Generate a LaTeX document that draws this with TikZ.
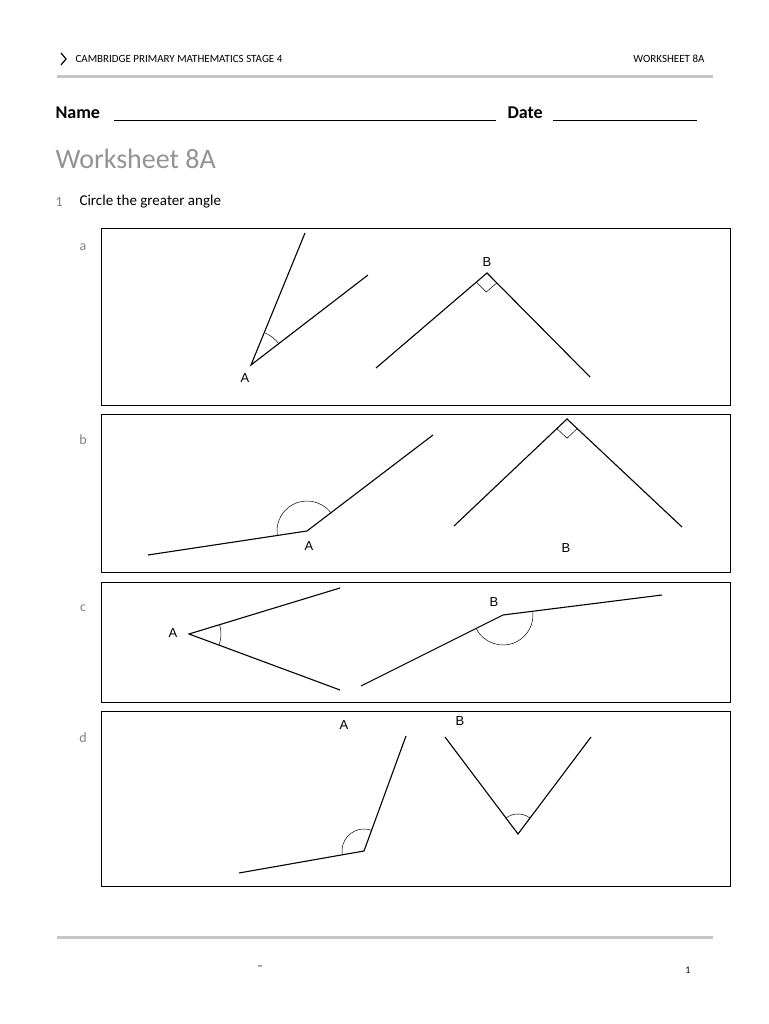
\documentclass[tikz,border=0pt]{standalone}
\usepackage{fontspec}
\setmainfont{Carlito}
\newfontfamily\arialf{Liberation Sans}
\begin{document}
\begin{tikzpicture}[x=1pt,y=1pt,
  ray/.style={line width=1.1pt,black},
  mk/.style={line width=0.5pt,black},
  box/.style={draw=black,line width=0.8pt},
  lbl/.style={font=\arialf\fontsize{13}{13}\selectfont},
  sub/.style={text=gray,font=\fontsize{14}{14}\selectfont},
  shadowline/.style={line width=3pt,color=gray!45}]
\useasboundingbox (0,0) rectangle (768,1024);
% header
\draw[line width=1.2pt] (61,971) -- (66,965) -- (61,959);
\node[anchor=west,font=\fontsize{11}{11}\selectfont] (hd) at (72,965) {CAMBRIDGE PRIMARY MATHEMATICS STAGE 4};
\node[anchor=east,font=\fontsize{11}{11}\selectfont] (ws) at (708,965) {WORKSHEET 8A};
\draw[shadowline] (57,947) -- (713,947);
\node[anchor=west,font=\bfseries\fontsize{18}{18}\selectfont] (nm) at (52,911) {Name};
\draw[line width=1pt] (114,903) -- (496,903);
\node[anchor=west,font=\bfseries\fontsize{18}{18}\selectfont] (dt) at (504,911) {Date};
\draw[line width=1pt] (553,903) -- (697,903);
\node[anchor=west,text=gray!85,font=\fontsize{28}{28}\selectfont] (title) at (52,865) {Worksheet 8A};
\node[anchor=west,sub] (q1) at (52,822) {1};
\node[anchor=west,font=\fontsize{15}{15}\selectfont] (q1t) at (76,822) {Circle the greater angle};
% boxes
\draw[box] (101,796) rectangle (730,619);
\draw[box] (101,610) rectangle (730,452);
\draw[box] (101,442) rectangle (730,322);
\draw[box] (101,313) rectangle (730,138);
\node[sub] (la) at (83,777) {a};
\node[sub] (lb) at (83,584) {b};
\node[sub] (lc) at (83,416) {c};
\node[sub] (ld) at (83,286) {d};
% a
\coordinate (aA) at (251,659); \coordinate (aA1) at (305,791); \coordinate (aA2) at (368,749);
\draw[ray] (aA1) -- (aA) -- (aA2);
\draw[mk] ([shift={(37.6:35)}]aA) arc (37.6:67.8:35);
\node[lbl] (aAl) at (245,646) {A};
\coordinate (aB) at (487,751); \coordinate (aB1) at (376,656); \coordinate (aB2) at (590,647);
\draw[ray] (aB1) -- (aB) -- (aB2);
\draw[mk] ([shift={(220.6:14)}]aB) -- ++(-45.3:14) -- ++(40.6:14);
\node[lbl] (aBl) at (487,762) {B};
% b
\coordinate (bA) at (307,493); \coordinate (bA1) at (148,469); \coordinate (bA2) at (433,589);
\draw[ray] (bA1) -- (bA) -- (bA2);
\draw[mk] ([shift={(37.3:30)}]bA) arc (37.3:188.6:30);
\node[lbl] (bAl) at (309,478) {A};
\coordinate (bB) at (567,605); \coordinate (bB1) at (454,498); \coordinate (bB2) at (682,497);
\draw[ray] (bB1) -- (bB) -- (bB2);
\draw[mk] ([shift={(223.4:14)}]bB) -- ++(-43.2:14) -- ++(43.4:14);
\node[lbl] (bBl) at (566,476) {B};
% c
\coordinate (cA) at (189,390); \coordinate (cA1) at (340,436); \coordinate (cA2) at (340,334);
\draw[ray] (cA1) -- (cA) -- (cA2);
\draw[mk] ([shift={(-20.3:32)}]cA) arc (-20.3:16.9:32);
\node[lbl] (cAl) at (173,391) {A};
\coordinate (cB) at (503,409); \coordinate (cB1) at (361,338); \coordinate (cB2) at (662,429);
\draw[ray] (cB1) -- (cB) -- (cB2);
\draw[mk] ([shift={(206.6:30)}]cB) arc (206.6:367.2:30);
\node[lbl] (cBl) at (494,422) {B};
% d
\coordinate (dA) at (364,173); \coordinate (dA1) at (239,151); \coordinate (dA2) at (406,288);
\draw[ray] (dA1) -- (dA) -- (dA2);
\draw[mk] ([shift={(70:22)}]dA) arc (70:190:22);
\node[lbl] (dAl) at (344,299) {A};
\coordinate (dB) at (518,190); \coordinate (dB1) at (445,287); \coordinate (dB2) at (591,287);
\draw[ray] (dB1) -- (dB) -- (dB2);
\draw[mk] ([shift={(53:20)}]dB) arc (53:127:20);
\node[lbl] (dBl) at (460,303) {B};
% footer
\draw[shadowline] (57,86) -- (713,86);
\node[font=\fontsize{11}{11}\selectfont] (dash) at (260,56) {--};
\node[font=\fontsize{10}{10}\selectfont] (pg) at (688,54) {1};
\end{tikzpicture}
\end{document}
